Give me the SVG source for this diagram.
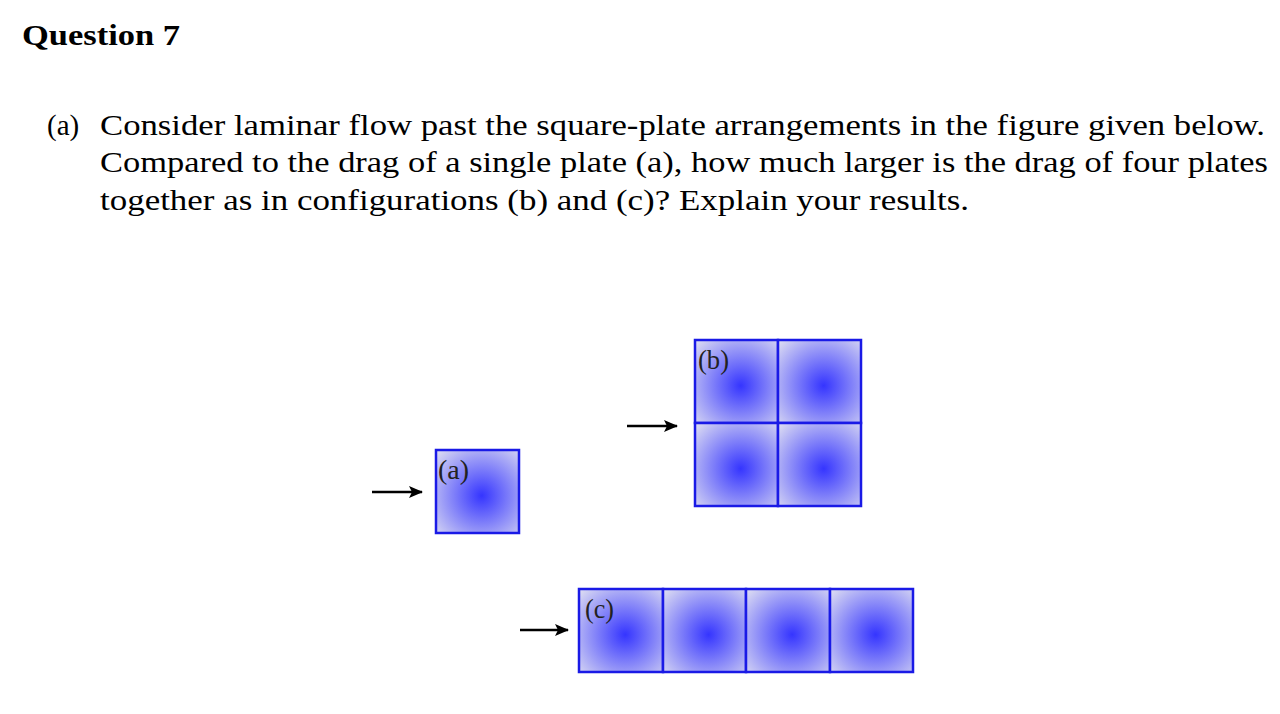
<svg xmlns="http://www.w3.org/2000/svg" width="1280" height="714" viewBox="0 0 1280 714">
<style>
.t{font-family:"Liberation Serif",serif;font-size:29px;fill:#000}
.lb{font-family:"Liberation Serif",serif;font-size:27px;fill:#222}
.sq{fill:url(#g);stroke:#1a1ae6;stroke-width:2.5}
.ar{stroke:#000;stroke-width:2.5;marker-end:url(#ah)}
</style>
<defs>
<radialGradient id="g" cx="0.55" cy="0.55" r="0.75">
<stop offset="0" stop-color="#3535ff"/>
<stop offset="1" stop-color="#dcdcf2"/>
</radialGradient>
<marker id="ah" markerWidth="14" markerHeight="12" refX="13" refY="6" orient="auto" markerUnits="userSpaceOnUse">
<path d="M0,0 L14,6 L0,12 L3,6 Z" fill="#000"/>
</marker>
</defs>
<rect width="1280" height="714" fill="#fff"/>
<text x="22" y="45" class="t" style="font-weight:bold;font-size:29px" textLength="158" lengthAdjust="spacingAndGlyphs">Question 7</text>
<text x="47" y="135" class="t">(a)</text>
<text x="100" y="135" class="t" textLength="1165" lengthAdjust="spacingAndGlyphs">Consider laminar flow past the square-plate arrangements in the figure given below.</text>
<text x="100" y="172" class="t" textLength="1168" lengthAdjust="spacingAndGlyphs">Compared to the drag of a single plate (a), how much larger is the drag of four plates</text>
<text x="100" y="210" class="t" textLength="869" lengthAdjust="spacingAndGlyphs">together as in configurations (b) and (c)? Explain your results.</text>
<g id="connectors">
<line x1="372" y1="492" x2="422" y2="492" class="ar"/>
<line x1="627" y1="426" x2="677" y2="426" class="ar"/>
<line x1="520" y1="630" x2="568" y2="630" class="ar"/>
</g>
<g id="plate-a">
<rect x="436" y="450" width="83" height="83" class="sq"/>
<text x="438" y="479" class="lb" textLength="31" lengthAdjust="spacingAndGlyphs">(a)</text>
</g>
<g id="plate-b">
<rect x="695" y="340" width="83" height="83" class="sq"/>
<rect x="778" y="340" width="83" height="83" class="sq"/>
<rect x="695" y="423" width="83" height="83" class="sq"/>
<rect x="778" y="423" width="83" height="83" class="sq"/>
<text x="698" y="369" class="lb" textLength="31" lengthAdjust="spacingAndGlyphs">(b)</text>
</g>
<g id="plate-c">
<rect x="579" y="589" width="84" height="83" class="sq"/>
<rect x="663" y="589" width="83" height="83" class="sq"/>
<rect x="746" y="589" width="84" height="83" class="sq"/>
<rect x="830" y="589" width="83" height="83" class="sq"/>
<text x="585" y="618" class="lb" textLength="29" lengthAdjust="spacingAndGlyphs">(c)</text>
</g>
</svg>
